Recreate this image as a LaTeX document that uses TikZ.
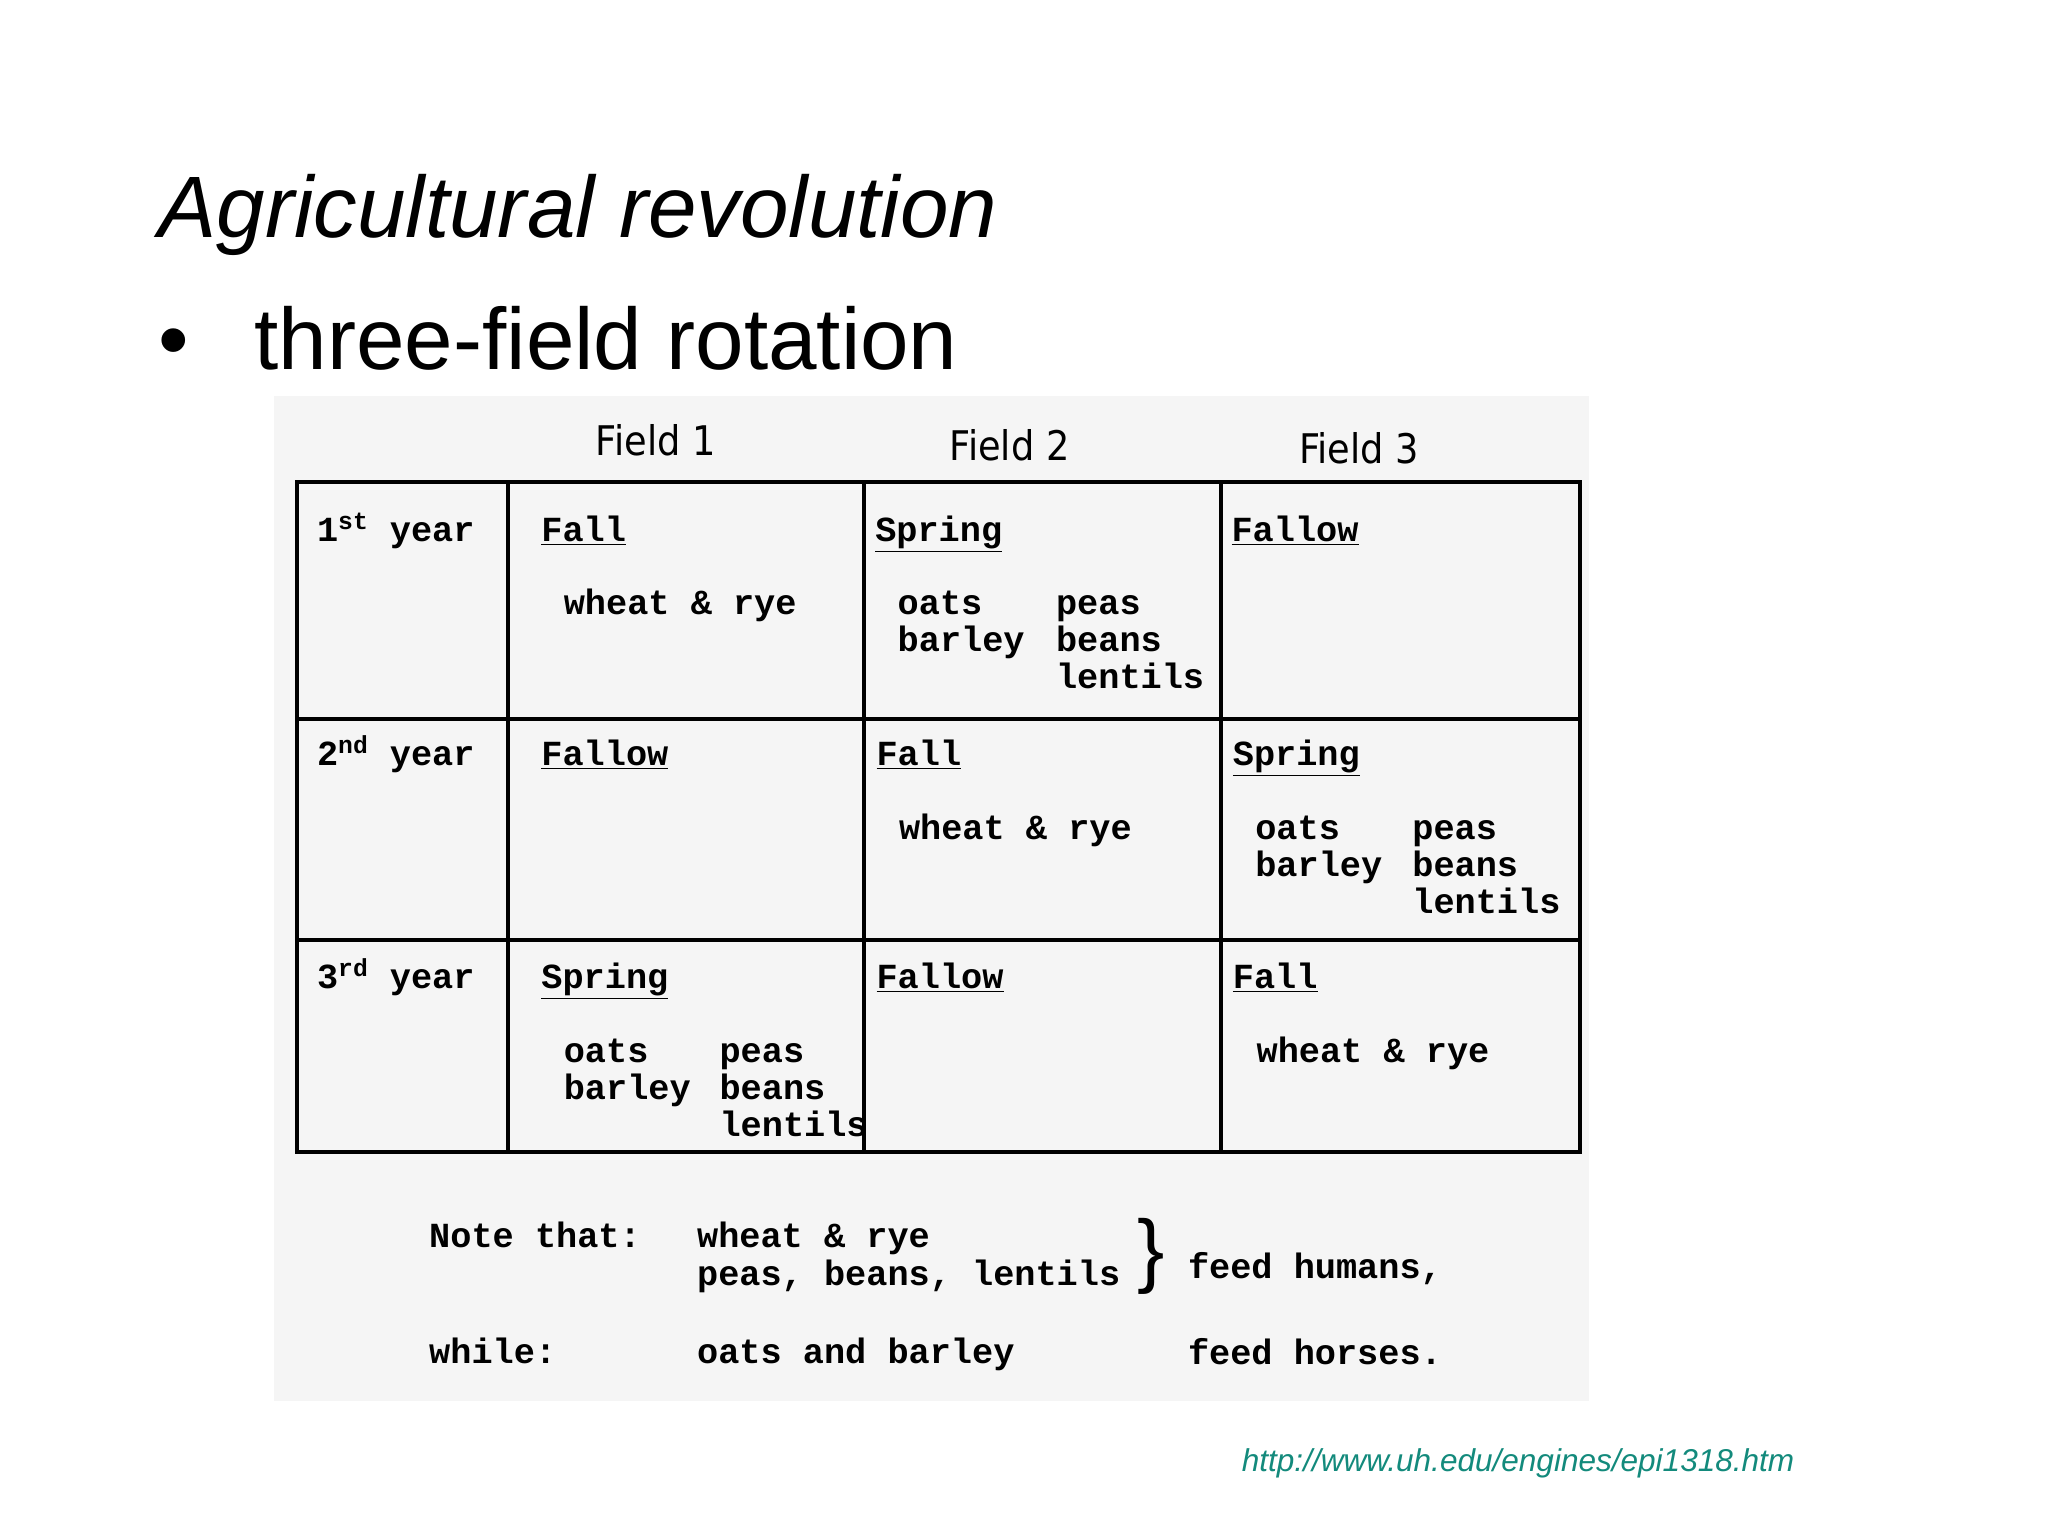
\documentclass[tikz,border=0pt]{standalone}
\usepackage{fontspec}
\setmainfont{Liberation Sans}
\newfontfamily\tw{Liberation Mono}
\newfontfamily\hand{DejaVu Sans}[FakeStretch=0.9]
\definecolor{teal2}{HTML}{138A7C}
\begin{document}
\begin{tikzpicture}[x=0.025cm,y=-0.025cm,
  tt/.style={anchor=base west,inner sep=0pt,font=\tw\bfseries\fontsize{19}{19}\selectfont},
  fld/.style={anchor=base,inner sep=0pt,font=\hand\fontsize{22}{22}\selectfont},
  grid/.style={line width=2.2pt,black}]
\useasboundingbox (0,0) rectangle (1552,1164);
\fill[white] (0,0) rectangle (1552,1164);
\node[anchor=base west,inner sep=0pt,font=\itshape\fontsize{47}{47}\selectfont] (title) at (120,180) {Agricultural revolution};
\node[anchor=base west,inner sep=0pt,font=\fontsize{47}{47}\selectfont] (bul) at (120,280) {\textbullet\hspace{0.75em}three-field rotation};
\fill[gray!8] (208,300) rectangle (1204,1062);
\draw[grid] (225,365) rectangle (1197,873);
\draw[grid] (385,365) -- (385,873);
\draw[grid] (655,365) -- (655,873);
\draw[grid] (925,365) -- (925,873);
\draw[grid] (225,545) -- (1197,545);
\draw[grid] (225,712) -- (1197,712);
\node[fld] (f1) at (497,345) {Field 1};
\node[fld] (f2) at (765,349) {Field 2};
\node[fld] (f3) at (1030,351) {Field 3};
% row labels
\node[tt] (y1) at (240,410) {1\textsuperscript{st}\hspace{0.6em}year};
\node[tt] (y2) at (240,580) {2\textsuperscript{nd}\hspace{0.6em}year};
\node[tt] (y3) at (240,749) {3\textsuperscript{rd}\hspace{0.6em}year};
% row 1
\node[tt] (a1) at (410,410) {\underline{Fall}};
\node[tt] (a2) at (427,466) {wheat \& rye};
\node[tt] (b1) at (663,410) {\underline{Spring}};
\node[tt] (b2) at (680,466) {oats};
\node[tt] (b3) at (800,466) {peas};
\node[tt] (b4) at (680,494) {barley};
\node[tt] (b5) at (800,494) {beans};
\node[tt] (b6) at (800,522) {lentils};
\node[tt] (c1) at (933,410) {\underline{Fallow}};
% row 2
\node[tt] (d1) at (410,580) {\underline{Fallow}};
\node[tt] (e1) at (664,580) {\underline{Fall}};
\node[tt] (e2) at (681,636) {wheat \& rye};
\node[tt] (g1) at (934,580) {\underline{Spring}};
\node[tt] (g2) at (951,636) {oats};
\node[tt] (g3) at (1070,636) {peas};
\node[tt] (g4) at (951,664) {barley};
\node[tt] (g5) at (1070,664) {beans};
\node[tt] (g6) at (1070,692) {lentils};
% row 3
\node[tt] (h1) at (410,749) {\underline{Spring}};
\node[tt] (h2) at (427,805) {oats};
\node[tt] (h3) at (545,805) {peas};
\node[tt] (h4) at (427,833) {barley};
\node[tt] (h5) at (545,833) {beans};
\node[tt] (h6) at (545,861) {lentils};
\node[tt] (i1) at (664,749) {\underline{Fallow}};
\node[tt] (j1) at (934,749) {\underline{Fall}};
\node[tt] (j2) at (952,805) {wheat \& rye};
% note
\node[tt] (n1) at (325,945) {Note that:};
\node[tt] (n2) at (528,945) {wheat \& rye};
\node[tt] (n3) at (528,974) {peas, beans, lentils};
\node[anchor=center,inner sep=0pt,font=\fontsize{44}{44}\selectfont] (br) at (872,952) {\}};
\node[tt] (n4) at (900,969) {feed humans,};
\node[tt] (n5) at (325,1033) {while:};
\node[tt] (n6) at (528,1033) {oats and barley};
\node[tt] (n7) at (900,1034) {feed horses.};
\node[anchor=base east,inner sep=0pt,text=teal2,font=\itshape\fontsize{17}{17}\selectfont] (url) at (1360,1115) {http://www.uh.edu/engines/epi1318.htm};
\end{tikzpicture}
\end{document}
